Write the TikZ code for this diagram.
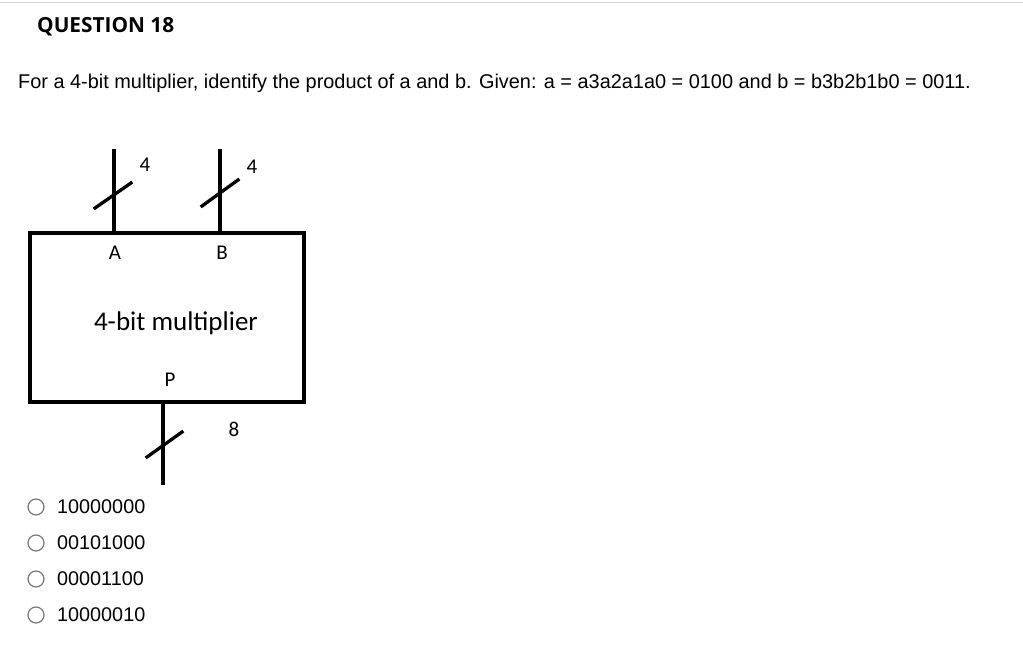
\documentclass[tikz,border=0pt]{standalone}
\usepackage{fontspec}
\setmainfont{Liberation Sans}
\newfontfamily\headfont{Open Sans}
\newfontfamily\boxfont{Carlito}
\definecolor{rulegray}{RGB}{214,214,214}
\definecolor{radiogray}{RGB}{120,120,120}

\begin{document}
\begin{tikzpicture}[x=1pt,y=-1pt,
    bus/.style={line width=3.3pt,line cap=rect},
    buslabel/.style={font=\boxfont\fontsize{21}{24}\selectfont,inner sep=0pt},
    radio/.style={circle,draw=radiogray,line width=1.2pt,minimum size=16pt,inner sep=0pt},
    answer/.style={anchor=west,inner sep=0pt,font=\fontsize{19.8}{23}\selectfont}]
    \useasboundingbox (0,0) rectangle (1023,668);

    % header
    \draw[rulegray,line width=1pt] (0,3) -- (1023,3);
    \node[anchor=west,inner sep=0pt,font=\headfont\bfseries\fontsize{20.8}{24}\selectfont] (title) at (37,27) {QUESTION 18};
    \node[anchor=base west,inner sep=0pt,font=\fontsize{19.9}{23}\selectfont] (question) at (18,89)
        {For a 4-bit multiplier, identify the product of a and b. Given: a = a3a2a1a0 = 0100 and b = b3b2b1b0 = 0011.};

    % multiplier block
    \draw[line width=3.3pt] (30,233) rectangle (304,402);
    \node[font=\boxfont\fontsize{27}{30}\selectfont,inner sep=0pt] (mult) at (176,323) {4-bit multiplier};
    \node[buslabel] (portA) at (115,253) {A};
    \node[buslabel] (portB) at (222,253) {B};
    \node[buslabel] (portP) at (170,380) {P};

    % input A
    \coordinate (inA) at (114,151);
    \coordinate (topA) at (114,233);
    \draw[bus] (inA) -- (topA);
    \draw[bus] (95,208) -- (131,183);
    \node[buslabel] (wA) at (145,165) {4};

    % input B
    \coordinate (inB) at (220,151);
    \coordinate (topB) at (220,233);
    \draw[bus] (inB) -- (topB);
    \draw[bus] (202,206) -- (238,180);
    \node[buslabel] (wB) at (252,167) {4};

    % output P
    \coordinate (botP) at (163,402);
    \coordinate (outP) at (163,483);
    \draw[bus] (botP) -- (outP);
    \draw[bus] (147,457) -- (182,432);
    \node[buslabel] (wP) at (234,429) {8};

    % answer options
    \foreach \y/\val [count=\i] in {507/10000000,543/00101000,579/00001100,615/10000010} {
        \node[radio] (opt\i) at (36,\y) {};
        \node[answer] (ans\i) at (57,\y) {\val};
    }
\end{tikzpicture}
\end{document}
